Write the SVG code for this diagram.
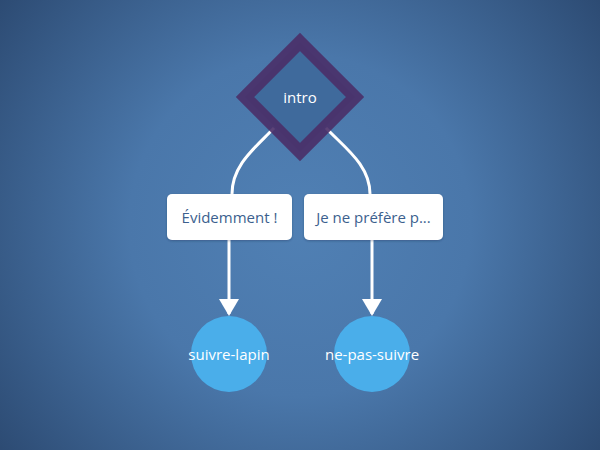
<svg xmlns="http://www.w3.org/2000/svg" width="600" height="450" viewBox="0 0 600 450">
<defs>
<radialGradient id="bg" cx="300" cy="225" r="380" gradientUnits="userSpaceOnUse">
<stop offset="0" stop-color="#5080b4"/>
<stop offset="0.45" stop-color="#4a77aa"/>
<stop offset="1" stop-color="#2c4a72"/>
</radialGradient>
<marker id="arr" viewBox="0 0 10 10" refX="9" refY="5" markerWidth="5" markerHeight="5" orient="auto" markerUnits="userSpaceOnUse">
<path d="M0,0 L10,5 L0,10 z" fill="#ffffff"/>
</marker>
<filter id="sh" x="-10%" y="-20%" width="120%" height="150%">
<feDropShadow dx="0" dy="1" stdDeviation="1.2" flood-color="#1a2e4a" flood-opacity="0.35"/>
</filter>
</defs>
<style>
.lbl{font-family:"Open Sans","Liberation Sans",sans-serif;font-size:15px;fill:#3c5f8e;text-anchor:middle;dominant-baseline:central}
.wt{font-family:"Open Sans","Liberation Sans",sans-serif;font-size:15px;fill:#ffffff;text-anchor:middle;dominant-baseline:central}
.edge{fill:none;stroke:#ffffff;stroke-width:3}
.box{fill:#ffffff;filter:url(#sh)}
.circ{fill:#4aaeea}
</style>
<rect width="600" height="450" fill="url(#bg)"/>
<g id="connectors">
<path class="edge" d="M274,128 C255,148 232,165 232,194"/>
<path class="edge" d="M326,128 C345,148 370,165 370,194"/>
<path class="edge" d="M229,240 L229,314" stroke-width="3"/>
<path d="M219,299 L239,299 L229,316 z" fill="#ffffff"/>
<path class="edge" d="M372,240 L372,314"/>
<path d="M362,299 L382,299 L372,316 z" fill="#ffffff"/>
</g>
<g id="intro">
<path d="M300,42 L355,97 L300,152 L245,97 z" fill="#3f6a9c" stroke="#4a2f68" stroke-opacity="0.9" stroke-width="13"/>
<text class="wt" x="300" y="97" font-size="16">intro</text>
</g>
<g id="label-evidemment">
<rect class="box" x="167" y="194" width="125" height="46" rx="5"/>
<text class="lbl" x="229.5" y="217">Évidemment !</text>
</g>
<g id="label-jenepreferepas">
<rect class="box" x="304" y="194" width="139" height="46" rx="5"/>
<text class="lbl" x="373.5" y="217">Je ne préfère p...</text>
</g>
<g id="suivre-lapin">
<circle class="circ" cx="229" cy="354" r="38"/>
<text class="wt" x="229" y="354">suivre-lapin</text>
</g>
<g id="ne-pas-suivre">
<circle class="circ" cx="372" cy="354" r="38"/>
<text class="wt" x="372" y="354">ne-pas-suivre</text>
</g>
</svg>
